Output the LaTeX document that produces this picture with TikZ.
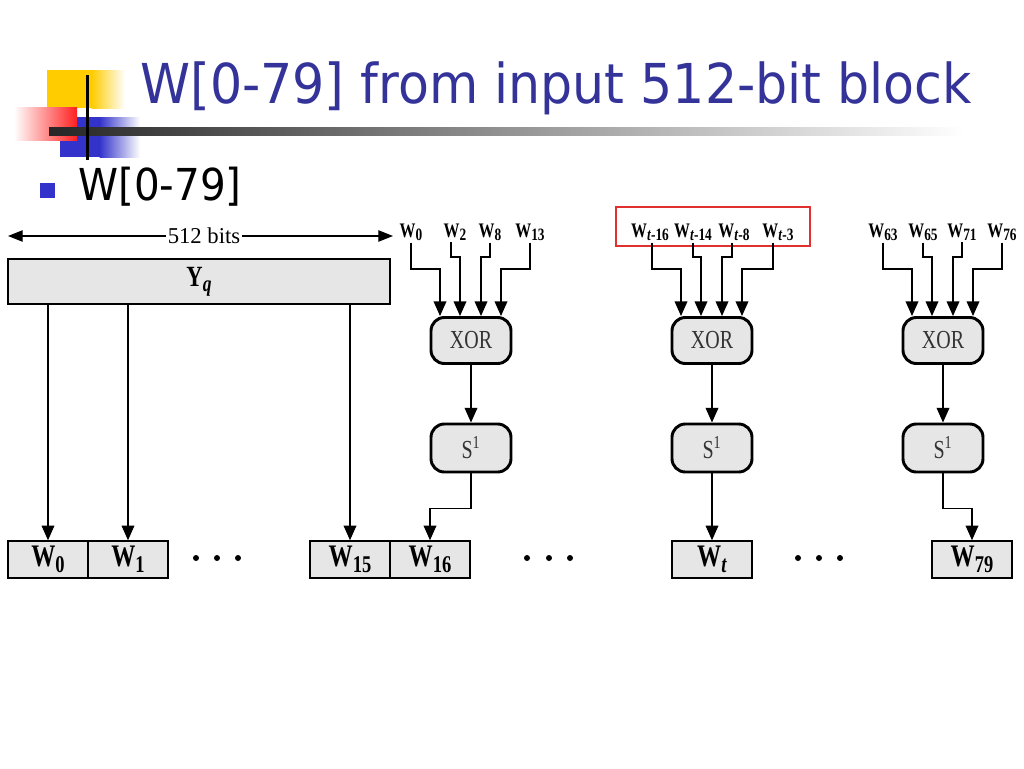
\documentclass[tikz,border=0pt]{standalone}
\usepackage{fontspec}
\usetikzlibrary{arrows.meta,calc}
\newfontfamily\titlefont[FakeStretch=0.92]{DejaVu Sans}
\newfontfamily\figfont[FakeStretch=0.77]{Liberation Serif}
\newfontfamily\figrfont{Liberation Serif}
\definecolor{titleblue}{HTML}{333399}
\definecolor{bulletblue}{HTML}{3333CC}
\definecolor{boxgray}{HTML}{E6E6E6}
\definecolor{decoyellow}{HTML}{FFCC00}
\definecolor{decored}{HTML}{FF2020}
\definecolor{redframe}{HTML}{E03030}
\newcommand\topw[1]{W\raisebox{-0.4ex}{\fontsize{13}{13}\selectfont #1}}
\newcommand\botw[1]{W\raisebox{-0.4ex}{\fontsize{18}{18}\selectfont #1}}
\tikzset{
  conn/.style={line width=1.1pt, draw=black},
  arr/.style={conn, -{Triangle[length=11pt,width=9.5pt]}},
  dimarr/.style={line width=0.9pt, -{Triangle[length=11pt,width=8.5pt]}},
  opbox/.style={draw, line width=2.2pt, fill=boxgray, rounded corners=10pt,
    minimum width=80*0.75pt, minimum height=46*0.75pt, inner sep=0pt,
    font=\figfont\fontsize{19.5}{19.5}\selectfont, text=black!80},
  wbox/.style={draw, line width=1.1pt, fill=boxgray,
    minimum width=80*0.75pt, minimum height=37*0.75pt, inner sep=0pt,
    font=\figfont\bfseries\fontsize{23.5}{23.5}\selectfont},
  toplbl/.style={anchor=base, inner sep=0pt, font=\figfont\bfseries\fontsize{15.5}{15.5}\selectfont},
}
\begin{document}
\begin{tikzpicture}[x=0.75pt,y=-0.75pt]
\useasboundingbox (0,0) rectangle (1024,768);
% ---- decoration of the slide title
\fill[decoyellow] (47,70) rectangle (92,108);
\shade[left color=decoyellow, right color=white] (91.5,70) rectangle (125,108);
\fill[bulletblue] (60,117) rectangle (100,157);
\shade[left color=bulletblue, right color=white] (99.5,117) rectangle (140,157);
\shade[left color=white, right color=decored] (14,107) rectangle (77,140);
\shade[left color=black!85, right color=white] (49,127) rectangle (965,135);
\fill[black] (85.5,75) rectangle (89,160);
% ---- title and bullet
\node[anchor=base west, inner sep=0pt, text=titleblue,
  font=\titlefont\fontsize{41.25}{41.25}\selectfont] (title) at (140,103) {W[0-79] from input 512-bit block};
\fill[bulletblue] (40,183) rectangle (55,198);
\node[anchor=base west, inner sep=0pt,
  font=\titlefont\fontsize{33}{33}\selectfont] (subtitle) at (78,200) {W[0-79]};
% ---- 512 bits and Y_q
\node[fill=white, inner sep=1pt, font=\figrfont\fontsize{17}{17}\selectfont] (bits) at (204,236) {512 bits};
\coordinate (bl) at (8,236);
\coordinate (br) at (393,236);
\draw[dimarr] (bits.west) -- (bl);
\draw[dimarr] (bits.east) -- (br);
\node[draw, line width=1.1pt, fill=boxgray, minimum width=382*0.75pt, minimum height=45*0.75pt,
  inner sep=0pt, font=\figfont\bfseries\fontsize{22}{22}\selectfont] (yq) at (199,281.5)
  {Y\raisebox{-0.4ex}{\fontsize{17}{17}\selectfont\textit{q}}};
% ---- bottom word boxes
\node[wbox] (w0) at (48,559.5) {\botw{0}};
\node[wbox] (w1) at (128,559.5) {\botw{1}};
\node[wbox] (w15) at (350,559.5) {\botw{15}};
\node[wbox] (w16) at (430,559.5) {\botw{16}};
\node[wbox] (wt) at (712,559.5) {\botw{\textit{t}}};
\node[wbox] (w79) at (972,559.5) {\botw{79}};
\draw[arr] (yq.south -| w0.north) -- (w0.north);
\draw[arr] (yq.south -| w1.north) -- (w1.north);
\draw[arr] (yq.south -| w15.north) -- (w15.north);
% ---- dots
\foreach \xx in {196,217,238,527,549,570,798,819,840}
  \fill (\xx,558) circle (3);
% ---- XOR and S1 blocks
\node[opbox] (xor1) at (471,340.5) {XOR};
\node[opbox] (xor2) at (712,340.5) {XOR};
\node[opbox] (xor3) at (943,340.5) {XOR};
\node[opbox, minimum height=48*0.75pt] (s1) at (471,448) {S\textsuperscript{1}};
\node[opbox, minimum height=48*0.75pt] (s2) at (712,448) {S\textsuperscript{1}};
\node[opbox, minimum height=48*0.75pt] (s3) at (943,448) {S\textsuperscript{1}};
\draw[arr] (xor1) -- (s1);
\draw[arr] (xor2) -- (s2);
\draw[arr] (xor3) -- (s3);
\draw[arr] (s1.south) -- ++(0,35) -| (w16.north);
\draw[arr] (s2.south) -- (wt.north);
\draw[arr] (s3.south) -- ++(0,35) -| (w79.north);
% ---- levels for input bends
\coordinate (lvlA) at (0,269);
\coordinate (lvlB) at (0,257);
% ---- inputs column 1
\node[toplbl] (a1) at (411,237) {\topw{0}};
\node[toplbl] (a2) at (455,237) {\topw{2}};
\node[toplbl] (a3) at (490,237) {\topw{8}};
\node[toplbl] (a4) at (530,237) {\topw{13}};
% ---- inputs column 2
\node[draw=redframe, line width=0.9pt, minimum width=194*0.75pt, minimum height=39*0.75pt, inner sep=0pt] (redbox) at (713,226.5) {};
\node[toplbl] (b1) at (650,237) {\topw{\textit{t}-16}};
\node[toplbl] (b2) at (693,237) {\topw{\textit{t}-14}};
\node[toplbl] (b3) at (734,237) {\topw{\textit{t}-8}};
\node[toplbl] (b4) at (778,237) {\topw{\textit{t}-3}};
% ---- inputs column 3
\node[toplbl] (c1) at (883,237) {\topw{63}};
\node[toplbl] (c2) at (923,237) {\topw{65}};
\node[toplbl] (c3) at (962,237) {\topw{71}};
\node[toplbl] (c4) at (1002,237) {\topw{76}};
% entry points on the XOR blocks
\foreach \k in {1,2,3}{
  \coordinate (e\k a) at ($(xor\k.north)+(-31,0)$);
  \coordinate (e\k b) at ($(xor\k.north)+(-11,0)$);
  \coordinate (e\k c) at ($(xor\k.north)+(10,0)$);
  \coordinate (e\k d) at ($(xor\k.north)+(30,0)$);
}
\draw[arr] ([yshift=-1pt]a1.south) |- (e1a |- lvlA) -- (e1a);
\draw[arr] ([yshift=-1pt]a2.south -| 451,0) |- (e1b |- lvlB) -- (e1b);
\draw[arr] ([yshift=-1pt]a3.south) |- (e1c |- lvlB) -- (e1c);
\draw[arr] ([yshift=-1pt]a4.south) |- (e1d |- lvlA) -- (e1d);
\draw[arr] ([yshift=-1pt]b1.south -| 652,0) |- (e2a |- lvlA) -- (e2a);
\draw[arr] ([yshift=-1pt]b2.south) |- (e2b |- lvlB) -- (e2b);
\draw[arr] ([yshift=-1pt]b3.south -| 732,0) |- (e2c |- lvlB) -- (e2c);
\draw[arr] ([yshift=-1pt]b4.south -| 773,0) |- (e2d |- lvlA) -- (e2d);
\draw[arr] ([yshift=-1pt]c1.south) |- (e3a |- lvlA) -- (e3a);
\draw[arr] ([yshift=-1pt]c2.south) |- (e3b |- lvlB) -- (e3b);
\draw[arr] ([yshift=-1pt]c3.south) |- (e3c |- lvlB) -- (e3c);
\draw[arr] ([yshift=-1pt]c4.south) |- (e3d |- lvlA) -- (e3d);
\end{tikzpicture}
\end{document}
